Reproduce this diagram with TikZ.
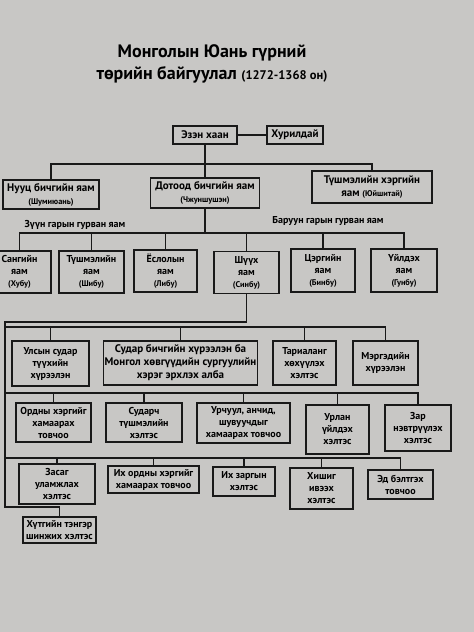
\documentclass[tikz,border=0pt]{standalone}
\usepackage{fontspec}
\setmainfont{PT Sans}
\definecolor{paper}{RGB}{200,199,197}
\definecolor{ink}{RGB}{25,25,25}
\tikzset{
  yam/.style={draw=ink, line width=1.5pt, align=center, inner sep=1pt,
    font=\bfseries\fontsize{10}{12}\selectfont},
  big/.style={font=\bfseries\fontsize{11}{13}\selectfont},
  link/.style={draw=ink, line width=1.5pt},
}
\newcommand{\lat}[1]{{\fontsize{8.3}{10}\selectfont #1}}
\begin{document}
\begin{tikzpicture}[x=1pt,y=-1pt]
	\fill[paper] (0,0) rectangle (474,632);
	\useasboundingbox (0,0) rectangle (474,632);

	% title
	\node[font=\bfseries\fontsize{18}{22}\selectfont, align=center] (title) at (212,64)
	  {Монголын Юань гүрний\\төрийн байгуулал {\fontsize{12.5}{14}\selectfont(1272-1368 он)}};

	% top
	\node[yam, big, minimum width=64pt, minimum height=18pt] (ezen) at (205,135) {Эзэн хаан};
	\node[yam, big, minimum width=56pt, minimum height=18pt] (khural) at (295,135) {Хурилдай};

	\node[yam, big, minimum width=96pt, minimum height=29pt] (nuuts) at (51,194.5)
	  {Нууц бичгийн яам\\\lat{(Шумиюань)}};
	\node[yam, big, minimum width=109pt, minimum height=30pt] (dotood) at (205,193)
	  {Дотоод бичгийн яам\\\lat{(Чжуншушэн)}};
	\node[yam, big, minimum width=120pt, minimum height=32pt] (tushmelkh) at (372,187)
	  {Түшмэлийн хэргийн\\яам \lat{(Юйшитай)}};

	\node[font=\bfseries\fontsize{10}{12}\selectfont] (zuun) at (75,225) {Зүүн гарын гурван яам};
	\node[font=\bfseries\fontsize{10}{12}\selectfont] (baruun) at (328,221) {Баруун гарын гурван яам};

	% six yam
	\node[yam, minimum width=63pt, minimum height=42pt] (sangiin) at (19.5,272) {Сангийн\\яам\\\lat{(Хубу)}};
	\node[yam, minimum width=65pt, minimum height=42pt] (tushmel) at (91.5,272) {Түшмэлийн\\яам\\\lat{(Шибу)}};
	\node[yam, minimum width=63pt, minimum height=42pt] (yoslol) at (165.5,271) {Ёслолын\\яам\\\lat{(Либу)}};
	\node[yam, minimum width=65pt, minimum height=42pt] (shuukh) at (246.5,272.5) {Шүүх\\яам\\\lat{(Синбу)}};
	\node[yam, minimum width=64pt, minimum height=43pt] (tsergiin) at (323,270.5) {Цэргийн\\яам\\\lat{(Бинбу)}};
	\node[yam, minimum width=66pt, minimum height=43pt] (uildekh) at (404,270.5) {Үйлдэх\\яам\\\lat{(Гунбу)}};

	% row 3
	\node[yam, minimum width=77pt, minimum height=45pt] (ulsyn) at (50.5,363.5) {Улсын судар\\түүхийн\\хүрээлэн};
	\node[yam, big, minimum width=153pt, minimum height=44pt] (sudar) at (180.5,363)
	  {Судар бичгийн хүрээлэн ба\\Монгол хөвгүүдийн сургуулийн\\хэрэг эрхлэх алба};
	\node[yam, minimum width=63pt, minimum height=44pt] (tarialang) at (304.5,363) {Тариаланг\\хөхүүлэх\\хэлтэс};
	\node[yam, minimum width=65pt, minimum height=44pt] (mergediin) at (385.5,363) {Мэргэдийн\\хүрээлэн};

	% row 4
	\node[yam, minimum width=75pt, minimum height=39pt] (ordny) at (53.5,422.5) {Ордны хэргийг\\хамаарах\\товчоо};
	\node[yam, minimum width=76pt, minimum height=39pt] (sudarch) at (144,422.5) {Сударч\\түшмэлийн\\хэлтэс};
	\node[yam, minimum width=93pt, minimum height=40pt] (urchuul) at (243.5,423) {Урчуул, анчид,\\шувуучдыг\\хамаарах товчоо};
	\node[yam, minimum width=63pt, minimum height=49pt] (urlan) at (337.5,429.5) {Урлан\\үйлдэх\\хэлтэс};
	\node[yam, minimum width=66pt, minimum height=46pt] (zar) at (418,428) {Зар\\нэвтрүүлэх\\хэлтэс};

	% row 5
	\node[yam, minimum width=76pt, minimum height=40pt] (zasag) at (57,484) {Засаг\\уламжлах\\хэлтэс};
	\node[yam, minimum width=91pt, minimum height=27pt] (ikhordny) at (153.5,479.5) {Их ордны хэргийг\\хамаарах товчоо};
	\node[yam, minimum width=62pt, minimum height=29pt] (zargyn) at (244,481.5) {Их заргын\\хэлтэс};
	\node[yam, minimum width=63pt, minimum height=41pt] (khishig) at (321.5,488.5) {Хишиг\\ивээх\\хэлтэс};
	\node[yam, minimum width=65pt, minimum height=29pt] (ed) at (400.5,484.5) {Эд бэлтгэх\\товчоо};

	\node[yam, minimum width=73pt, minimum height=26pt] (khutgiin) at (59.5,530) {Хүтгийн тэнгэр\\шинжих хэлтэс};

	% bus points
	\coordinate (bus1) at (205,164);
	\coordinate (bus2) at (205,233);
	\coordinate (trunk) at (5,322);
	\coordinate (bus3) at (5,327);
	\coordinate (bus4) at (5,393);
	\coordinate (bus5) at (5,458);
	\coordinate (bus6) at (5,507);

	\draw[link] (ezen.east) -- (khural.west);
	\draw[link] (ezen.south) -- (dotood.north);
	\draw[link] (nuuts.north) |- (bus1) -| (tushmelkh.north);

	\draw[link] (dotood.south) -- (bus2);
	\draw[link] (sangiin.north) |- (bus2) -| (uildekh.north);
	\foreach \n in {tushmel,yoslol,shuukh,tsergiin}
	    \draw[link] (\n.north) -- (\n.north |- bus2);

	\draw[link] (shuukh.south) |- (trunk) -- (bus6) -| (khutgiin.north);

	\draw[link] (bus3) -| (mergediin.north);
	\foreach \n in {ulsyn,sudar,tarialang}
	    \draw[link] (\n.north) -- (\n.north |- bus3);

	\draw[link] (bus4) -| (zar.north);
	\foreach \n in {ordny,sudarch,urchuul,urlan}
	    \draw[link] (\n.north) -- (\n.north |- bus4);

	\draw[link] (bus5) -| (ed.north);
	\foreach \n in {zasag,ikhordny,zargyn,khishig}
	    \draw[link] (\n.north) -- (\n.north |- bus5);
\end{tikzpicture}
\end{document}
